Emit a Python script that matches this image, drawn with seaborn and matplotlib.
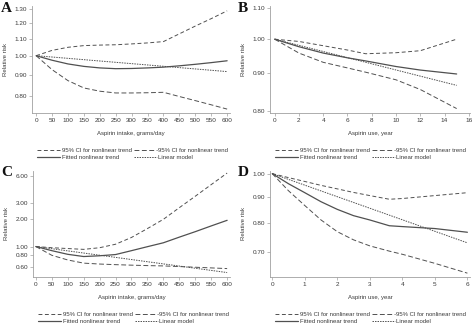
import matplotlib
matplotlib.use("Agg")
import matplotlib.pyplot as plt
import matplotlib.ticker as mticker
import seaborn as sns

# ---------------- data ----------------
a_x = [0, 50, 100, 150, 200, 250, 300, 350, 400, 450, 500, 550, 600]
a_upper = [1.0, 1.03, 1.048, 1.058, 1.061, 1.063, 1.068, 1.074, 1.082, 1.13, 1.18, 1.23, 1.285]
a_fit = [1.0, 0.975, 0.955, 0.942, 0.934, 0.930, 0.931, 0.934, 0.938, 0.945, 0.953, 0.962, 0.972]
a_lower = [1.0, 0.925, 0.87, 0.835, 0.82, 0.812, 0.812, 0.813, 0.815, 0.796, 0.778, 0.760, 0.742]
a_lin_x = [0, 600]
a_lin = [1.0, 0.915]

b_x = [0, 2, 4, 6, 7.5, 10, 12, 15]
b_upper = [1.0, 0.993, 0.980, 0.967, 0.956, 0.959, 0.965, 1.0]
b_fit = [1.0, 0.977, 0.958, 0.944, 0.935, 0.919, 0.909, 0.898]
b_lower = [1.0, 0.958, 0.931, 0.915, 0.903, 0.882, 0.856, 0.807]
b_lin_x = [0, 15]
b_lin = [1.0, 0.867]

c_x = [0, 50, 100, 150, 200, 250, 300, 350, 400, 450, 500, 550, 600]
c_upper = [1.0, 0.97, 0.95, 0.93, 0.97, 1.06, 1.26, 1.58, 2.0, 2.69, 3.6, 4.84, 6.5]
c_fit = [1.0, 0.9, 0.82, 0.775, 0.79, 0.815, 0.90, 0.996, 1.1, 1.27, 1.46, 1.69, 1.95]
c_lower = [1.0, 0.8, 0.71, 0.655, 0.64, 0.63, 0.622, 0.615, 0.61, 0.60, 0.59, 0.58, 0.57]
c_lin_x = [0, 600]
c_lin = [1.0, 0.515]

d_x = [0, 0.5, 1, 1.5, 2, 2.5, 3, 3.6, 4, 5, 6]
d_upper = [1.0, 0.982, 0.965, 0.948, 0.933, 0.918, 0.905, 0.89, 0.893, 0.905, 0.917]
d_fit = [1.0, 0.955, 0.917, 0.88, 0.85, 0.826, 0.81, 0.789, 0.786, 0.779, 0.766]
d_lower = [1.0, 0.925, 0.865, 0.81, 0.768, 0.74, 0.72, 0.703, 0.693, 0.665, 0.636]
d_lin_x = [0, 6]
d_lin = [1.0, 0.73]

panel_letters = ["A", "B", "C", "D"]
x_labels = ["Aspirin intake, grams/day", "Aspirin use, year",
            "Aspirin intake, grams/day", "Aspirin use, year"]
y_label = "Relative risk"
ci_label = "95% CI for nonlinear trend"
fit_label = "Fitted nonlinear trend"
lin_label = "Linear model"

a_yticks = [0.8, 0.9, 1.0, 1.1, 1.2, 1.3]
b_yticks = [0.8, 0.9, 1.0, 1.1]
c_yticks = [0.6, 0.8, 1.0, 2.0, 3.0, 6.0]
d_yticks = [0.7, 0.8, 0.9, 1.0]
a_xticks = list(range(0, 601, 50))
b_xticks = list(range(0, 17, 2))
d_xticks = list(range(0, 7))

# ---------------- style ----------------
sns.set_style("ticks")
plt.rcParams["font.family"] = ["Liberation Sans", "DejaVu Sans"]

W, H = 474, 327
fig = plt.figure(figsize=(W / 100, H / 100), dpi=100)

def px_axes(l, t, r, b):
    return fig.add_axes([l / W, 1 - b / H, (r - l) / W, (b - t) / H])

LC = "#505050"
SPC = "#a0a0a0"
TC = "#3a3a3a"
FS_TICK = 4.6
FS_LAB = 4.3
FS_LEG = 4.3

panels = [
    dict(box=(32.3, 6, 230, 113), x=a_x, up=a_upper, fit=a_fit, lo=a_lower,
         lx=a_lin_x, ly=a_lin, yt=a_yticks, xt=a_xticks, xlim=(-12, 609), ylim=(0.726, 1.32),
         letter_pos=(1, 8)),
    dict(box=(270.3, 6, 470, 113), x=b_x, up=b_upper, fit=b_fit, lo=b_lower,
         lx=b_lin_x, ly=b_lin, yt=b_yticks, xt=b_xticks, xlim=(-0.36, 16.1), ylim=(0.796, 1.108),
         letter_pos=(238, 8)),
    dict(box=(33.3, 171, 230, 277), x=c_x, up=c_upper, fit=c_fit, lo=c_lower,
         lx=c_lin_x, ly=c_lin, yt=c_yticks, xt=a_xticks, xlim=(-8, 609), ylim=(0.46, 6.85),
         letter_pos=(1, 172)),
    dict(box=(270.3, 171, 470, 277), x=d_x, up=d_upper, fit=d_fit, lo=d_lower,
         lx=d_lin_x, ly=d_lin, yt=d_yticks, xt=d_xticks, xlim=(-0.06, 6.08), ylim=(0.625, 1.012),
         letter_pos=(238, 172)),
]

for i, p in enumerate(panels):
    ax = px_axes(*p["box"])
    sns.lineplot(x=p["x"], y=p["up"], ax=ax, color=LC, lw=0.7,
                 linestyle=(0, (4.0, 2.6)), label=ci_label)
    sns.lineplot(x=p["x"], y=p["fit"], ax=ax, color=LC, lw=0.9,
                 linestyle="-", label=fit_label)
    sns.lineplot(x=p["x"], y=p["lo"], ax=ax, color=LC, lw=0.7,
                 linestyle=(0, (5.0, 2.6)), label=ci_label)
    sns.lineplot(x=p["lx"], y=p["ly"], ax=ax, color=LC, lw=0.7,
                 linestyle=(0, (1.5, 1.1)), label=lin_label)
    ax.set_yscale("log")
    ax.set_xlim(*p["xlim"])
    ax.set_ylim(*p["ylim"])
    ax.yaxis.set_major_locator(mticker.FixedLocator(p["yt"]))
    ax.yaxis.set_major_formatter(mticker.FixedFormatter([f"{v:.2f}" for v in p["yt"]]))
    ax.yaxis.set_minor_locator(mticker.NullLocator())
    ax.set_xticks(p["xt"])
    ax.set_xticklabels([str(v) for v in p["xt"]])
    for s in ["top", "right"]:
        ax.spines[s].set_visible(False)
    for s in ["left", "bottom"]:
        ax.spines[s].set_color(SPC)
        ax.spines[s].set_linewidth(0.6)
    ax.tick_params(axis="both", which="major", length=2, width=0.5, color=SPC,
                   labelsize=FS_TICK, labelcolor=TC, pad=1.5)
    ax.set_xlabel(x_labels[i], fontsize=FS_LAB, color=TC, labelpad=6)
    ax.set_ylabel(y_label, fontsize=FS_LAB, color=TC, labelpad=5)
    ax.set_facecolor("white")

    handles, labels = ax.get_legend_handles_labels()
    order = [0, 1, 2, 3]
    l = p["box"][0]
    b = p["box"][3]
    ax.legend([handles[k] for k in order], [labels[k] for k in order], ncol=2,
              loc="upper left", bbox_to_anchor=((l + 5) / W, 1 - (b + 35) / H),
              bbox_transform=fig.transFigure, frameon=False, fontsize=FS_LEG,
              handlelength=3.8, handletextpad=0.3, columnspacing=0.35,
              labelspacing=0.35, borderaxespad=0, borderpad=0,
              labelcolor=TC)

    lx, ly = p["letter_pos"]
    fig.text(lx / W, 1 - ly / H, panel_letters[i], family=["Liberation Serif"],
             fontweight="bold", fontsize=11, va="center", ha="left", color="#111111")

fig.savefig("out.png", dpi=100, facecolor="white")
